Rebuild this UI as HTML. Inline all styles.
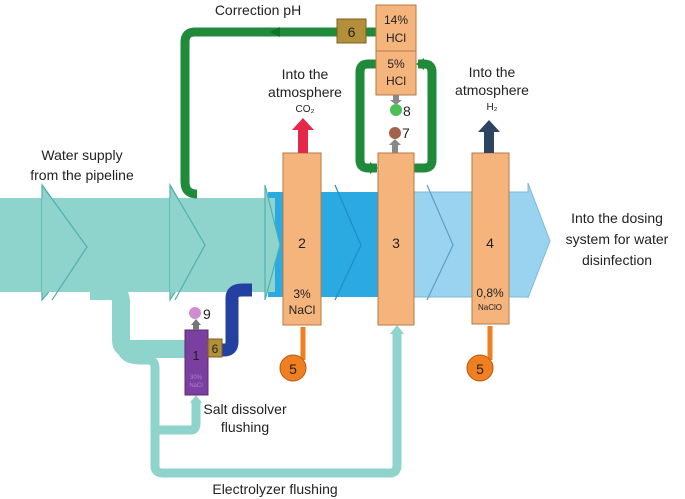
<!DOCTYPE html>
<html><head><style>
html,body{margin:0;padding:0;background:#fff;}
svg{display:block;font-family:"Liberation Sans",sans-serif;}
</style></head><body>
<svg width="685" height="499" viewBox="0 0 685 499" xmlns="http://www.w3.org/2000/svg">
<!-- main band -->
<rect x="268" y="192" width="112" height="105" fill="#2ba9e1"/>
<polygon points="380,192 528,192 528,183 550,241 528,298 528,297 380,297" fill="#9ad3f0" stroke="#7fb9d8" stroke-width="1"/>
<rect x="0" y="198" width="275" height="94" fill="#8fd3cd"/>
<g fill="#8fd3cd" stroke="#4fb0ab" stroke-width="1.2">
<polygon points="42,185 87,247 42,300 42,292 42,198"/>
<polygon points="170,185 205,245 170,300"/>
<polygon points="265,185 280,245 265,300"/>
</g>
<rect x="0" y="198" width="40" height="94" fill="#8fd3cd"/>
<rect x="43" y="198" width="126" height="94" fill="#8fd3cd"/>
<polygon points="42,198 80,198 87,247 80,292 42,292" fill="#8fd3cd"/>
<polygon points="170,198 200,198 205,245 200,292 170,292" fill="#8fd3cd"/>
<g fill="none" stroke="#4fb0ab" stroke-width="1.2">
<polyline points="42,185 87,247 52,300"/>
<polyline points="170,185 205,245 175,300"/>
</g>
<g fill="none" stroke="#1b8fc8" stroke-width="1.2">
<polyline points="335,185 361,245 335,300"/>
</g>
<g fill="none" stroke="#5a9fc8" stroke-width="1.2">
<polyline points="427,185 453,245 427,300"/>
</g>
<!-- green pipe -->
<path d="M376,32 H195 Q185,32 185,42 V182 Q185,194 197,194" fill="none" stroke="#1f8a3a" stroke-width="9"/>
<polygon points="270,32 280,27 280,37" fill="#157030"/>
<path d="M376,64 H368 Q360,64 360,72 V160 Q360,168 368,168 H377" fill="none" stroke="#1f8a3a" stroke-width="9"/>
<path d="M414,168 H424 Q432,168 432,160 V72 Q432,64 424,64 H418" fill="none" stroke="#1f8a3a" stroke-width="9"/>
<polygon points="378,168 370,162 370,174" fill="#1f8a3a"/>
<polygon points="416,64 424,58 424,70" fill="#1f8a3a"/>
<!-- box 6 top -->
<rect x="337" y="19" width="29" height="24" fill="#b38f3a" stroke="#7a6020"/>
<text x="351.5" y="37" font-size="14" text-anchor="middle" fill="#222">6</text>
<!-- HCl boxes -->
<rect x="376" y="5" width="40" height="46" fill="#f5b47c" stroke="#b77a45"/>
<rect x="376" y="51" width="40" height="44" fill="#f5b47c" stroke="#b77a45"/>
<text x="396" y="24" font-size="12" text-anchor="middle" fill="#222">14%</text>
<text x="396" y="42" font-size="12" text-anchor="middle" fill="#222">HCl</text>
<text x="396" y="68" font-size="12" text-anchor="middle" fill="#222">5%</text>
<text x="396" y="85" font-size="12" text-anchor="middle" fill="#222">HCl</text>
<rect x="393" y="95" width="6" height="5" fill="#888"/><polygon points="390,100 402,100 396,105" fill="#888"/>
<circle cx="396" cy="110" r="6" fill="#4cbf55"/>
<text x="403" y="116" font-size="14" fill="#222">8</text>
<circle cx="395" cy="133" r="6" fill="#a4624a"/>
<text x="402" y="138" font-size="14" fill="#222">7</text>
<polygon points="389,145 401,145 395,139" fill="#888"/><rect x="392" y="145" width="6" height="8" fill="#888"/>
<!-- columns -->
<rect x="283" y="153" width="38" height="172" fill="#f5b47c" stroke="#b77a45"/>
<rect x="378" y="153" width="36" height="172" fill="#f5b47c" stroke="#b77a45"/>
<rect x="472" y="153" width="37" height="171" fill="#f5b47c" stroke="#b77a45"/>
<text x="302" y="248" font-size="14" text-anchor="middle" fill="#222">2</text>
<text x="396" y="248" font-size="14" text-anchor="middle" fill="#222">3</text>
<text x="490" y="248" font-size="14" text-anchor="middle" fill="#222">4</text>
<text x="302" y="298" font-size="12" text-anchor="middle" fill="#222">3%</text>
<text x="302" y="314" font-size="12" text-anchor="middle" fill="#222">NaCl</text>
<text x="490" y="297" font-size="12" text-anchor="middle" fill="#222">0,8%</text>
<text x="490" y="310" font-size="8" text-anchor="middle" fill="#222">NaClO</text>
<!-- gas arrows -->
<polygon points="298,153 308,153 308,130 314,130 303,118 292,130 298,130" fill="#e5284a"/>
<polygon points="484,153 494,153 494,132 500,132 489,120 478,132 484,132" fill="#2e4560"/>
<!-- top texts -->
<text x="258" y="15" font-size="14" text-anchor="middle" fill="#222">Correction pH</text>
<text x="305" y="79" font-size="14" text-anchor="middle" fill="#222">Into the</text>
<text x="305" y="97" font-size="14" text-anchor="middle" fill="#222">atmosphere</text>
<text x="305" y="112" font-size="10" text-anchor="middle" fill="#222">CO₂</text>
<text x="492" y="77" font-size="14" text-anchor="middle" fill="#222">Into the</text>
<text x="492" y="95" font-size="14" text-anchor="middle" fill="#222">atmosphere</text>
<text x="492" y="110" font-size="10" text-anchor="middle" fill="#222">H₂</text>
<text x="82" y="160" font-size="14" text-anchor="middle" fill="#222">Water supply</text>
<text x="82" y="180" font-size="14" text-anchor="middle" fill="#222">from the pipeline</text>
<text x="617" y="223" font-size="14" text-anchor="middle" fill="#222">Into the dosing</text>
<text x="617" y="244" font-size="14" text-anchor="middle" fill="#222">system for water</text>
<text x="617" y="265" font-size="14" text-anchor="middle" fill="#222">disinfection</text>
<!-- lower teal pipes -->
<path d="M90,291 H110 Q121,291 121,302 V340 Q121,349 130,349 H185" fill="none" stroke="#8fd3cd" stroke-width="18"/>
<path d="M121,345 Q121,360 140,360 H148 Q155,360 155,368 V466 Q155,473 163,473 H390 Q397,473 397,465 V332" fill="none" stroke="#8fd3cd" stroke-width="9"/>
<path d="M155,430 H191 Q196,430 196,423 V400" fill="none" stroke="#8fd3cd" stroke-width="9"/>
<polygon points="397,325 390,334 404,334" fill="#8fd3cd"/>
<polygon points="196,395 190,403 202,403" fill="#8fd3cd"/>
<!-- blue pipe -->
<path d="M218,350 H224 Q232,350 232,342 V298 Q232,290 242,290 H252" fill="none" stroke="#2440a0" stroke-width="13"/>
<!-- box 1 -->
<rect x="185" y="330" width="23" height="65" fill="#7b3fa0" stroke="#5a2a78"/>
<text x="196" y="360" font-size="13" text-anchor="middle" fill="#222">1</text>
<text x="196" y="379" font-size="6" text-anchor="middle" fill="#b080d0">30%</text>
<text x="196" y="387" font-size="6" text-anchor="middle" fill="#b080d0">NaCl</text>
<rect x="208" y="339" width="14" height="18" fill="#b38f3a" stroke="#7a6020"/>
<text x="215" y="353" font-size="12" text-anchor="middle" fill="#222">6</text>
<polygon points="191,325 201,325 196,319" fill="#777"/><rect x="193" y="325" width="6" height="5" fill="#777"/>
<circle cx="195" cy="313" r="6" fill="#cf8ed0"/>
<text x="203" y="319" font-size="14" fill="#222">9</text>
<!-- pumps -->
<path d="M303,327 V360" stroke="#f07f22" stroke-width="5"/>
<circle cx="293" cy="368" r="13" fill="#f07f22" stroke="#b85a10"/>
<text x="293" y="374" font-size="14" text-anchor="middle" fill="#222">5</text>
<path d="M490,326 V360" stroke="#f07f22" stroke-width="5"/>
<circle cx="480" cy="368" r="13" fill="#f07f22" stroke="#b85a10"/>
<text x="480" y="374" font-size="14" text-anchor="middle" fill="#222">5</text>
<!-- lower texts -->
<text x="245" y="414" font-size="14" text-anchor="middle" fill="#222">Salt dissolver</text>
<text x="245" y="432" font-size="14" text-anchor="middle" fill="#222">flushing</text>
<text x="275" y="494" font-size="14" text-anchor="middle" fill="#222">Electrolyzer flushing</text>
</svg>
</body></html>
